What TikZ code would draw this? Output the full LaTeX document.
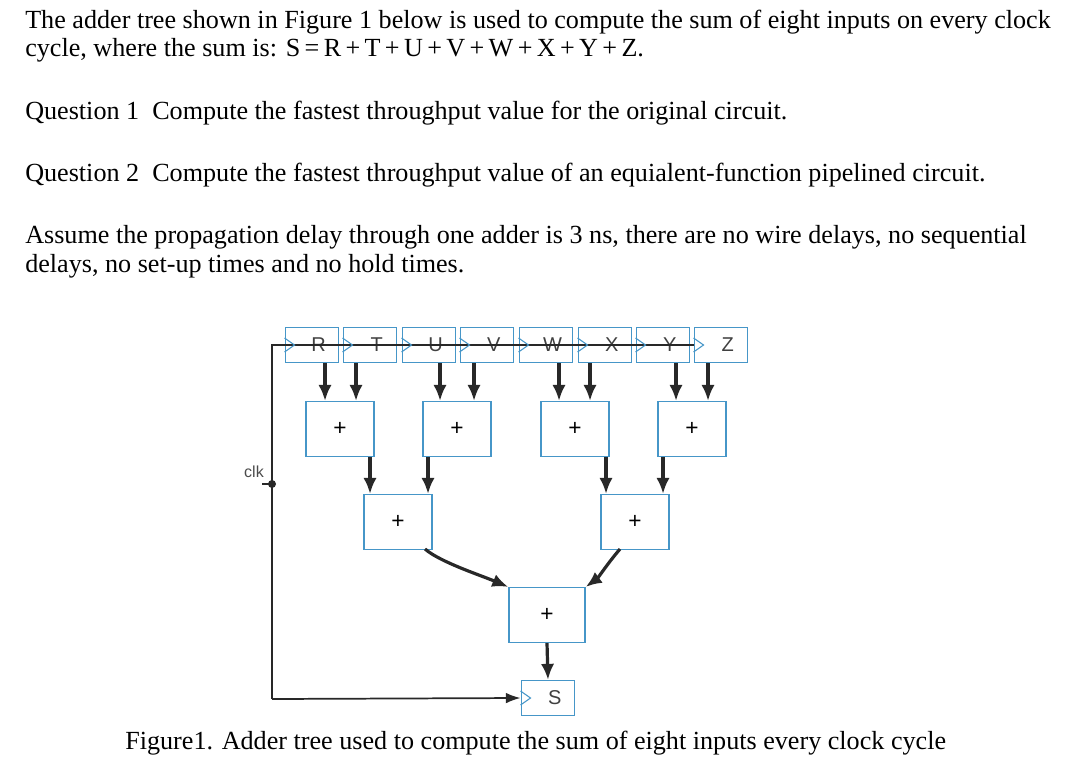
\documentclass[tikz,border=0pt]{standalone}
\usepackage{fontspec}
\setmainfont{Liberation Serif}
\newfontfamily\figsans{Liberation Sans}
\usetikzlibrary{arrows.meta}
\definecolor{bx}{RGB}{70,150,200}
\definecolor{wire}{RGB}{40,40,40}
\begin{document}
\begin{tikzpicture}[x=0.75pt,y=-0.75pt,
  reg/.style={draw=bx,line width=1.2pt,minimum width=40pt,minimum height=26pt,inner sep=0pt,font=\figsans\fontsize{15}{15}\selectfont,text=black!75},
  add/.style={draw=bx,line width=1.1pt,minimum width=51pt,minimum height=41pt,inner sep=0pt,font=\figsans\fontsize{17}{17}\selectfont},
  arr/.style={wire,line width=2.4pt,-{Latex[length=12pt,width=10pt]}},
  wr/.style={wire,line width=1.3pt},
  tri/.style={bx,line width=0.8pt},
  txt/.style={anchor=base west,inner sep=0pt,font=\fontsize{19.6}{19.6}\selectfont}]
\useasboundingbox (0,0) rectangle (1066,778);
\node[txt] (l1) at (25,28) {The adder tree shown in Figure 1 below is used to compute the sum of eight inputs on every clock};
\node[txt] (l2) at (25,56) {cycle, where the sum is: S\,=\,R\,+\,T\,+\,U\,+\,V\,+\,W\,+\,X\,+\,Y\,+\,Z.};
\node[txt] (l3) at (25,119) {Question 1\enspace Compute the fastest throughput value for the original circuit.};
\node[txt] (l4) at (25,181) {Question 2\enspace Compute the fastest throughput value of an equialent-function pipelined circuit.};
\node[txt] (l5) at (25,243) {Assume the propagation delay through one adder is 3 ns, there are no wire delays, no sequential};
\node[txt] (l6) at (25,272) {delays, no set-up times and no hold times.};
\node[txt] (cap) at (125,749) {Figure1. Adder tree used to compute the sum of eight inputs every clock cycle};
% registers
\foreach \n/\x in {R/312,T/370,U/429,V/487,W/546,X/605,Y/663,Z/721}{
  \node[reg] (\n) at (\x,345) {\hspace*{10pt}\n};
}
% clock
\coordinate (clkin) at (262,484);
\coordinate (clkd) at (272,484);
\coordinate (ctop) at (272,345);
\coordinate (cbot) at (272,699);
\node[font=\figsans\fontsize{12}{12}\selectfont,text=black!70,anchor=south] (clkl) at (254,482) {clk};
\draw[wr] (clkin) -- (clkd);
\fill[wire] (clkd) circle (4);
\draw[wr] (cbot) -- (clkd) -- (ctop) -- (Z.west |- ctop);
\foreach \n in {R,T,U,V,W,X,Y,Z}{
  \draw[tri] (\n.west) ++(0,-7) -- ++(10,7) -- ++(-10,7);
}
% adders
\node[add] (a1) at (340,429) {+};
\node[add] (a2) at (457,429) {+};
\node[add] (a3) at (575,429) {+};
\node[add] (a4) at (692,429) {+};
\node[add] (b1) at (398,522) {+};
\node[add] (b2) at (635,522) {+};
\node[add,minimum width=57pt] (c1) at (547,615) {+};
\node[reg] (S) at (548,698) {\hspace*{10pt}S};
\draw[tri] (S.west) ++(0,-7) -- ++(10,7) -- ++(-10,7);
\foreach \r/\a/\x in {R/a1/325,T/a1/356,U/a2/440,V/a2/474,W/a3/559,X/a3/590,Y/a4/676,Z/a4/708}{
  \draw[arr] (\r.south -| \x,0) -- (\a.north -| \x,0);
}
\foreach \a/\b/\x in {a1/b1/370,a2/b1/428,a3/b2/606,a4/b2/663}{
  \draw[arr] (\a.south -| \x,0) -- (\b.north -| \x,0);
}
\coordinate (o1) at (425,549);
\coordinate (o2) at (620,549);
\draw[arr] (o1) .. controls (440,562) and (480,575) .. (c1.north west);
\draw[arr] (o2) .. controls (608,563) and (598,578) .. (c1.north east);
\draw[arr] (c1.south) -- (S.north);
\draw[wr,-{Latex[length=11pt,width=8pt]}] (cbot) -- (S.west);
\end{tikzpicture}
\end{document}
